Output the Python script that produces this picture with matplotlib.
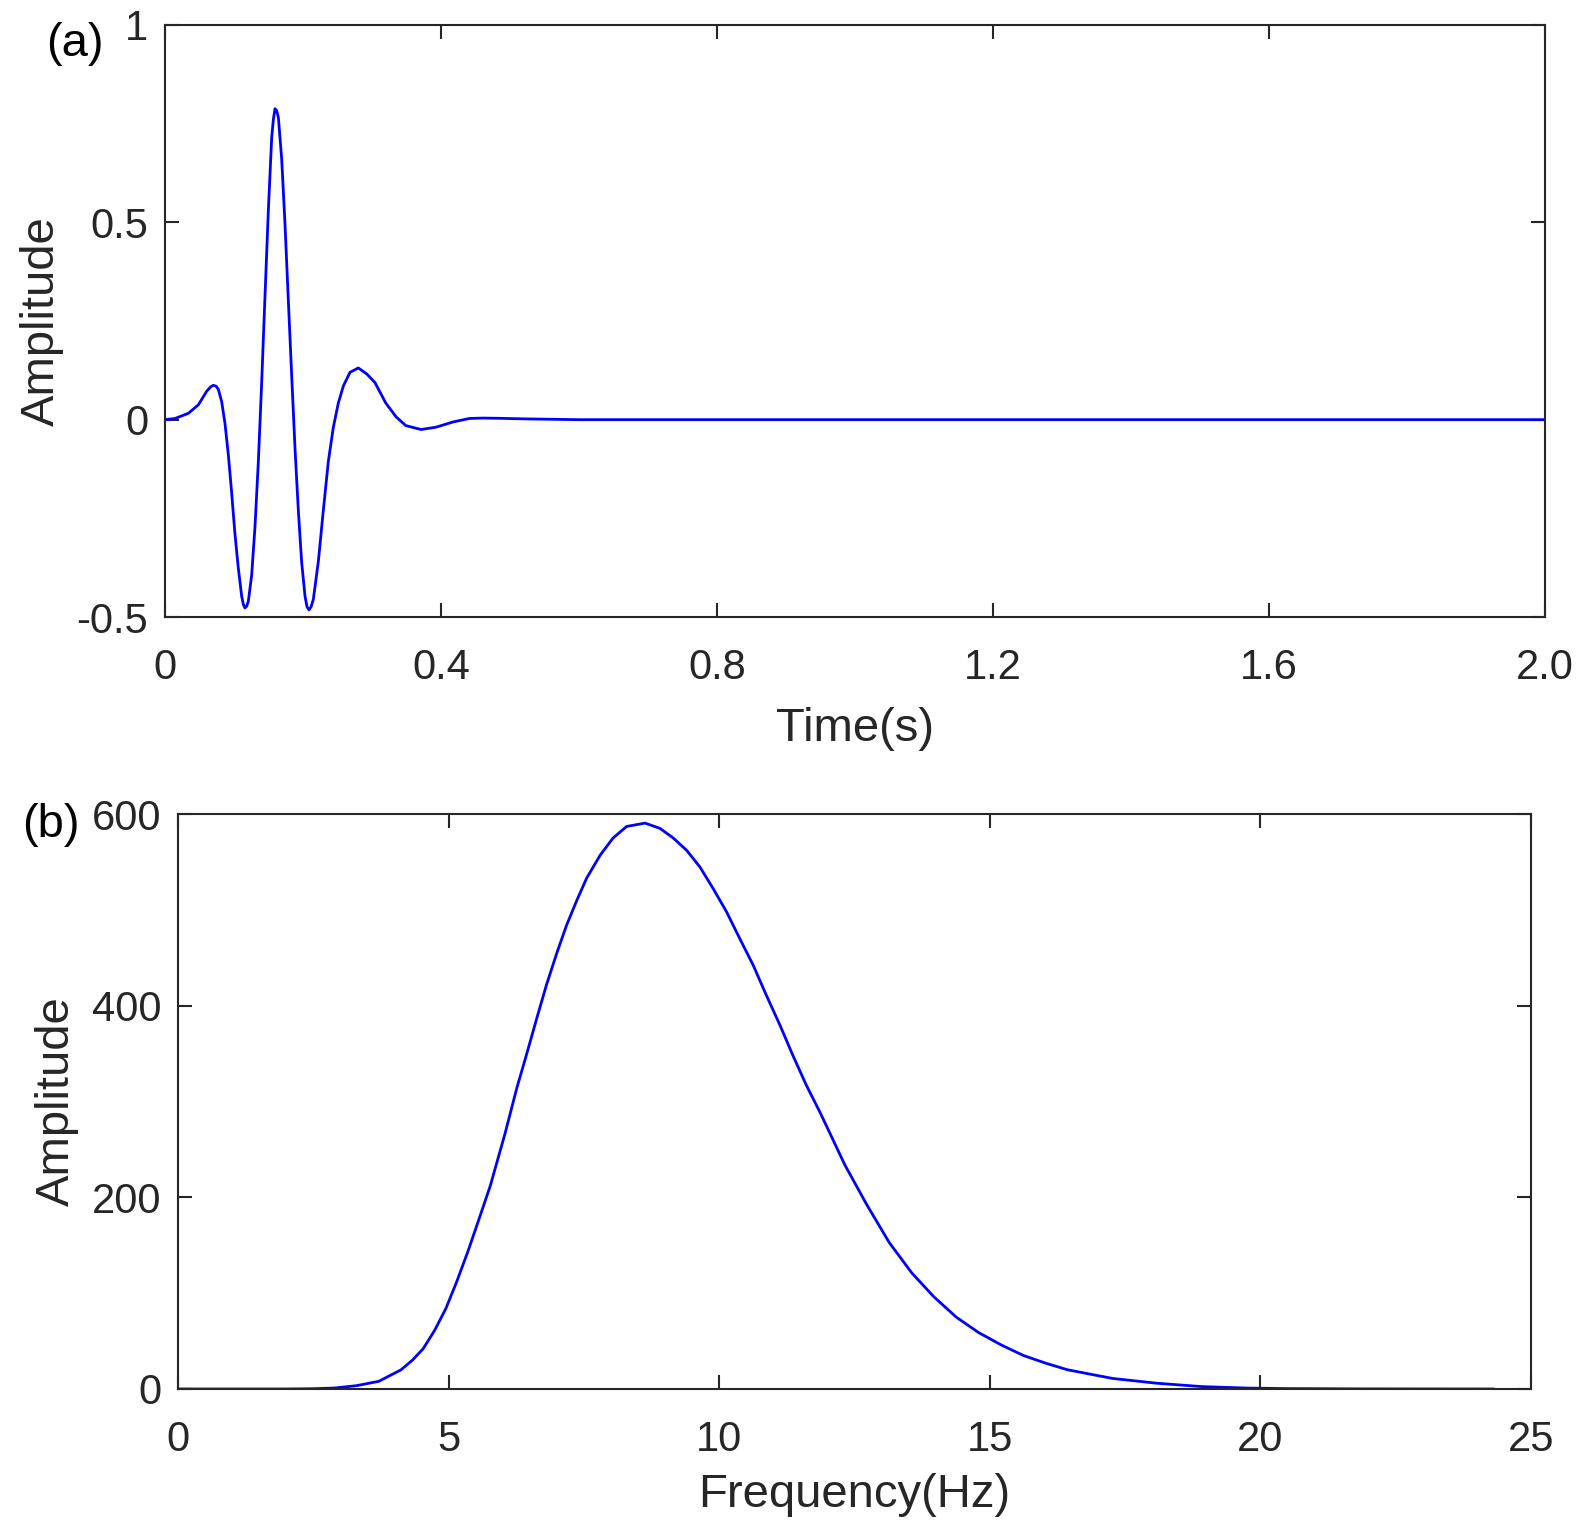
import matplotlib
matplotlib.use("Agg")
import matplotlib.pyplot as plt
from matplotlib.ticker import FixedLocator, FixedFormatter

# ---- data ----
time_s = [0.0, 0.0145, 0.0338, 0.0483, 0.0604, 0.066, 0.070, 0.074, 0.0773, 0.0821, 0.087,
          0.0918, 0.0966, 0.1014, 0.1063, 0.1111, 0.1135, 0.1159, 0.1183, 0.1208, 0.1256,
          0.1304, 0.1353, 0.1401, 0.1449, 0.1498, 0.1546, 0.1570, 0.1594, 0.1618, 0.1643,
          0.1691, 0.1739, 0.1787, 0.1836, 0.1884, 0.1932, 0.198, 0.2029, 0.2058, 0.2087,
          0.2118, 0.2150, 0.2222, 0.2295, 0.2367, 0.2440, 0.2512, 0.2585, 0.2681, 0.2802,
          0.2923, 0.3043, 0.320, 0.335, 0.349, 0.371, 0.393, 0.417, 0.441, 0.46, 0.484,
          0.52, 0.56, 0.60, 0.8, 1.2, 1.6, 2.0]
wavelet = [0.0, 0.003, 0.016, 0.0375, 0.072, 0.083, 0.087, 0.085, 0.077, 0.046, -0.0105,
           -0.089, -0.185, -0.290, -0.377, -0.447, -0.468, -0.477, -0.473, -0.460, -0.394,
           -0.272, -0.106, 0.094, 0.312, 0.531, 0.714, 0.760, 0.788, 0.783, 0.766,
           0.661, 0.496, 0.304, 0.112, -0.072, -0.229, -0.360, -0.447, -0.474, -0.482,
           -0.474, -0.455, -0.360, -0.229, -0.106, -0.019, 0.042, 0.0855, 0.120, 0.131,
           0.116, 0.094, 0.042, 0.007, -0.015, -0.025, -0.019, -0.006, 0.003, 0.004, 0.0035,
           0.002, 0.001, 0.0, 0.0, 0.0, 0.0, 0.0]

freq_hz = [0.0, 1.0, 2.0, 2.5, 2.89, 3.3, 3.71, 4.12, 4.33, 4.53, 4.74, 4.95, 5.15, 5.36,
           5.56, 5.77, 6.045, 6.26, 6.445, 6.63, 6.81, 7.0, 7.18, 7.37, 7.55, 7.80, 8.04,
           8.29, 8.63, 8.905, 9.15, 9.40, 9.64, 9.89, 10.135, 10.38, 10.63, 10.87, 11.12,
           11.37, 11.61, 11.86, 12.07, 12.32, 12.73, 13.14, 13.56, 13.97, 14.38, 14.79,
           15.21, 15.62, 16.03, 16.44, 17.27, 18.09, 18.92, 19.74, 20.5, 22.0, 24.3]
spectrum = [0.0, 0.0, 0.0, 0.3, 1.0, 3.5, 8.0, 20.0, 30.0, 42.0, 61.0, 84.0, 112.0, 144.0,
            177.0, 212.0, 267.0, 314.0, 350.0, 387.0, 422.0, 455.0, 484.0, 510.0, 533.0,
            557.0, 575.0, 587.0, 590.5, 585.0, 575.0, 562.0, 545.0, 522.0, 498.0, 470.0,
            442.0, 411.0, 380.0, 347.0, 317.0, 289.0, 264.0, 234.0, 192.0, 153.0, 121.0,
            96.0, 75.0, 59.0, 46.0, 35.0, 27.0, 20.0, 11.0, 6.0, 2.5, 1.0, 0.4, 0.1, 0.0]

time_ticks = [0, 0.4, 0.8, 1.2, 1.6, 2.0]
time_ticklabels = ["0", "0.4", "0.8", "1.2", "1.6", "2.0"]
amp_ticks_a = [-0.5, 0, 0.5, 1]
amp_ticklabels_a = ["-0.5", "0", "0.5", "1"]
freq_ticks = [0, 5, 10, 15, 20, 25]
freq_ticklabels = ["0", "5", "10", "15", "20", "25"]
amp_ticks_b = [0, 200, 400, 600]
amp_ticklabels_b = ["0", "200", "400", "600"]

# ---- style ----
plt.rcParams['font.family'] = ['Liberation Sans', 'DejaVu Sans']
plt.rcParams['axes.unicode_minus'] = False
dark = '#262626'

W, H = 1587, 1535
fig = plt.figure(figsize=(W / 100, H / 100), dpi=100)

def box(l, t, r, b):
    return [l / W, 1 - b / H, (r - l) / W, (b - t) / H]

ax1 = fig.add_axes(box(165, 25, 1545, 617))
ax2 = fig.add_axes(box(178, 814, 1531, 1389))

ax1.plot(time_s, wavelet, color='#0000ff', lw=2.0)
ax2.plot(freq_hz, spectrum, color='#0000ff', lw=2.0)

def style(ax, xt, xl, yt, yl, xlim, ylim, xlabel, ylabel, xlabelpad):
    ax.set_xlim(*xlim)
    ax.set_ylim(*ylim)
    ax.xaxis.set_major_locator(FixedLocator(xt))
    ax.xaxis.set_major_formatter(FixedFormatter(xl))
    ax.yaxis.set_major_locator(FixedLocator(yt))
    ax.yaxis.set_major_formatter(FixedFormatter(yl))
    ax.tick_params(axis='both', which='major', direction='in', length=10, width=1.5,
                   colors=dark, labelsize=30, top=True, right=True)
    ax.tick_params(axis='x', pad=22)
    ax.tick_params(axis='y', pad=12)
    for s in ax.spines.values():
        s.set_color(dark)
        s.set_linewidth(1.5)
    ax.set_xlabel(xlabel, fontsize=34, color=dark, labelpad=xlabelpad)
    ax.set_ylabel(ylabel, fontsize=34, color=dark, labelpad=9)

style(ax1, time_ticks, time_ticklabels, amp_ticks_a, amp_ticklabels_a,
      (0, 2.0), (-0.5, 1), 'Time(s)', 'Amplitude', 14)
style(ax2, freq_ticks, freq_ticklabels, amp_ticks_b, amp_ticklabels_b,
      (0, 25), (0, 600), 'Frequency(Hz)', 'Amplitude', 10)

fig.text(75 / W, 1 - 44 / H, '(a)', fontsize=34, ha='center', va='center', color='black')
fig.text(51 / W, 1 - 825 / H, '(b)', fontsize=34, ha='center', va='center', color='black')

fig.savefig('out.png', dpi=100)
